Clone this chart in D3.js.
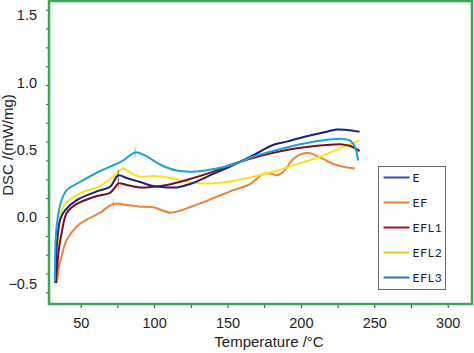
<!DOCTYPE html>
<html>
<head>
<meta charset="utf-8">
<script src="https://cdn.jsdelivr.net/npm/d3@7"></script>
<style>
  body { margin: 0; background: #fff; }
  text { font-family: "Liberation Sans", Arial, sans-serif; fill: #222; }
</style>
</head>
<body>
<svg id="chart" width="474" height="353"></svg>
<script>
// series: [temperature, DSC]
const seriesNames = ["E", "EF", "EFL1", "EFL2", "EFL3"];
const seriesColors = ["#1c1f7e", "#e8843c", "#7d0d1c", "#f7e21c", "#1fa1d4"];
const legendColors = ["#3a4bb0", "#e8843c", "#a3101c", "#f5c518", "#3d6fc4"];

const dataE = [[32.7,-0.49],[33.8,-0.2],[36,-0.02],[39.3,0.05],[47.3,0.126],[61,0.19],[70,0.225],[75.6,0.31],[81.3,0.29],[90.4,0.26],[99.5,0.23],[108.6,0.22],[115.4,0.22],[124.5,0.245],[140.3,0.32],[154,0.386],[167.6,0.46],[181,0.535],[190.3,0.56],[204,0.6],[217.6,0.634],[224.4,0.65],[231.2,0.647],[240,0.634]];
const dataEF = [[34,-0.49],[35,-0.38],[37,-0.29],[40.5,-0.17],[47.3,-0.07],[54,-0.02],[63,0.03],[72.2,0.097],[81.3,0.09],[90.4,0.077],[99.5,0.072],[106.3,0.047],[110.8,0.032],[115.4,0.04],[126.7,0.082],[140.3,0.14],[154,0.2],[165.3,0.245],[174.4,0.32],[179,0.324],[183.5,0.31],[188,0.337],[194.8,0.43],[200.5,0.468],[206.2,0.473],[213,0.443],[222,0.394],[229,0.374],[236.8,0.36]];
const dataEFL1 = [[33.2,-0.49],[35,-0.25],[37,-0.12],[40.5,0.03],[47.3,0.097],[61,0.156],[70,0.18],[73.4,0.22],[75.6,0.25],[81.3,0.238],[90.4,0.22],[99.5,0.225],[108.6,0.238],[122.2,0.275],[140.3,0.337],[154,0.394],[172,0.453],[190.3,0.498],[204,0.52],[217.6,0.535],[226.6,0.54],[233.6,0.527],[240,0.49]];
const dataEFL2 = [[33.6,-0.49],[34.6,-0.15],[37,0.05],[40.5,0.11],[49.5,0.176],[63,0.23],[72.2,0.3],[78.6,0.36],[84.7,0.324],[90.4,0.3],[99.5,0.305],[108.6,0.295],[117.6,0.275],[126.7,0.255],[140.3,0.25],[154,0.267],[167.6,0.3],[183.5,0.344],[199.4,0.4],[213,0.448],[226.6,0.51],[240,0.567]];
const dataEFL3 = [[32.4,-0.48],[33.6,-0.07],[37,0.126],[40.5,0.2],[49.5,0.26],[63,0.34],[73.4,0.39],[79,0.42],[87,0.48],[95,0.45],[104,0.39],[115.4,0.345],[126.7,0.337],[142.6,0.36],[154,0.39],[167.6,0.45],[181,0.49],[199.4,0.54],[213,0.567],[229,0.58],[233.6,0.567],[236.8,0.52],[239,0.42]];
const allData = [dataE, dataEF, dataEFL1, dataEFL2, dataEFL3];

// small vertical markers on the curves [series index, temperature, DSC]
const peakMarks = [[4, 87, 0.48], [0, 75.6, 0.31], [2, 75.6, 0.25], [1, 72.2, 0.097]];

const xTicks = [50, 100, 150, 200, 250, 300];
const xMinor = [50, 75, 100, 125, 150, 175, 200, 225, 250, 275, 300];
const yTicks = [-0.5, 0.0, 0.5, 1.0, 1.5];
const yMinor = [-0.56, -0.42, -0.28, -0.14, 0, 0.14, 0.28, 0.42, 0.56, 0.7, 0.84, 0.98, 1.12, 1.26, 1.4, 1.54];

const svg = d3.select("#chart");
const frame = { left: 49, top: 1, right: 472, bottom: 304 };

const x = d3.scaleLinear().domain([50, 300]).range([80.7, 447.7]);
const y = d3.scaleLinear().domain([0, 1.5]).range([217, 15.1]);

// tick marks outside the frame
svg.append("g")
  .attr("transform", `translate(0,${frame.bottom})`)
  .call(d3.axisBottom(x).tickValues(xMinor).tickSize(4).tickFormat(""))
  .call(g => g.select(".domain").remove())
  .call(g => g.selectAll("line").attr("stroke", "#333"));

svg.append("g")
  .attr("transform", `translate(${frame.left},0)`)
  .call(d3.axisLeft(y).tickValues(yMinor).tickSize(3).tickFormat(""))
  .call(g => g.select(".domain").remove())
  .call(g => g.selectAll("line").attr("stroke", "#555"));

// tick labels
svg.append("g")
  .attr("transform", `translate(0,${frame.bottom})`)
  .call(d3.axisBottom(x).tickValues(xTicks).tickSize(0).tickPadding(14).tickFormat(d3.format("d")))
  .call(g => g.select(".domain").remove())
  .call(g => g.selectAll("text").style("font-size", "14.5px").attr("fill", "#222"));

svg.append("g")
  .attr("transform", `translate(37,0)`)
  .call(d3.axisLeft(y).tickValues(yTicks).tickSize(0).tickPadding(0).tickFormat(d3.format(".1f")))
  .call(g => g.select(".domain").remove())
  .call(g => g.selectAll("text").style("font-size", "14.5px").attr("fill", "#222"));

// curves
const line = d3.line()
  .x(d => x(d[0]))
  .y(d => y(d[1]))
  .curve(d3.curveCatmullRom.alpha(0.5));

const order = [1, 3, 2, 0, 4];
svg.append("g").selectAll("path")
  .data(order)
  .join("path")
  .attr("d", i => line(allData[i]))
  .attr("fill", "none")
  .attr("stroke", i => seriesColors[i])
  .attr("stroke-width", 2)
  .attr("stroke-linejoin", "round");

svg.append("g").selectAll("line")
  .data(peakMarks)
  .join("line")
  .attr("x1", d => x(d[1])).attr("x2", d => x(d[1]))
  .attr("y1", d => y(d[2]) - 5).attr("y2", d => y(d[2]) + 5)
  .attr("stroke", d => seriesColors[d[0]])
  .attr("stroke-opacity", 0.6)
  .attr("stroke-width", 1);

// green frame
svg.append("rect")
  .attr("x", frame.left).attr("y", frame.top)
  .attr("width", frame.right - frame.left).attr("height", frame.bottom - frame.top)
  .attr("fill", "none").attr("stroke", "#3ba656").attr("stroke-width", 2.5);

// legend
const legend = svg.append("g").attr("transform", "translate(378.5,166.5)");
legend.append("rect")
  .attr("width", 67).attr("height", 123)
  .attr("fill", "#fff").attr("stroke", "#666").attr("stroke-width", 1);
const items = legend.selectAll("g.item")
  .data(seriesNames)
  .join("g")
  .attr("class", "item")
  .attr("transform", (d, i) => `translate(0,${11 + i * 25})`);
items.append("line")
  .attr("x1", 5).attr("x2", 31)
  .attr("stroke", (d, i) => legendColors[i]).attr("stroke-width", 2);
items.append("text")
  .attr("x", 34).attr("dy", "0.35em")
  .style("font-family", "Lato, 'Open Sans', sans-serif")
  .style("font-size", "12px")
  .style("letter-spacing", "0.8px")
  .attr("fill", "#333")
  .text(d => d);

// axis titles
svg.append("text")
  .attr("x", 269).attr("y", 347)
  .attr("text-anchor", "middle")
  .style("font-size", "15px")
  .text("Temperature /°C");

svg.append("text")
  .attr("transform", "translate(13,145) rotate(-90)")
  .attr("text-anchor", "middle")
  .style("font-size", "15px")
  .text("DSC /(mW/mg)");
</script>
</body>
</html>
